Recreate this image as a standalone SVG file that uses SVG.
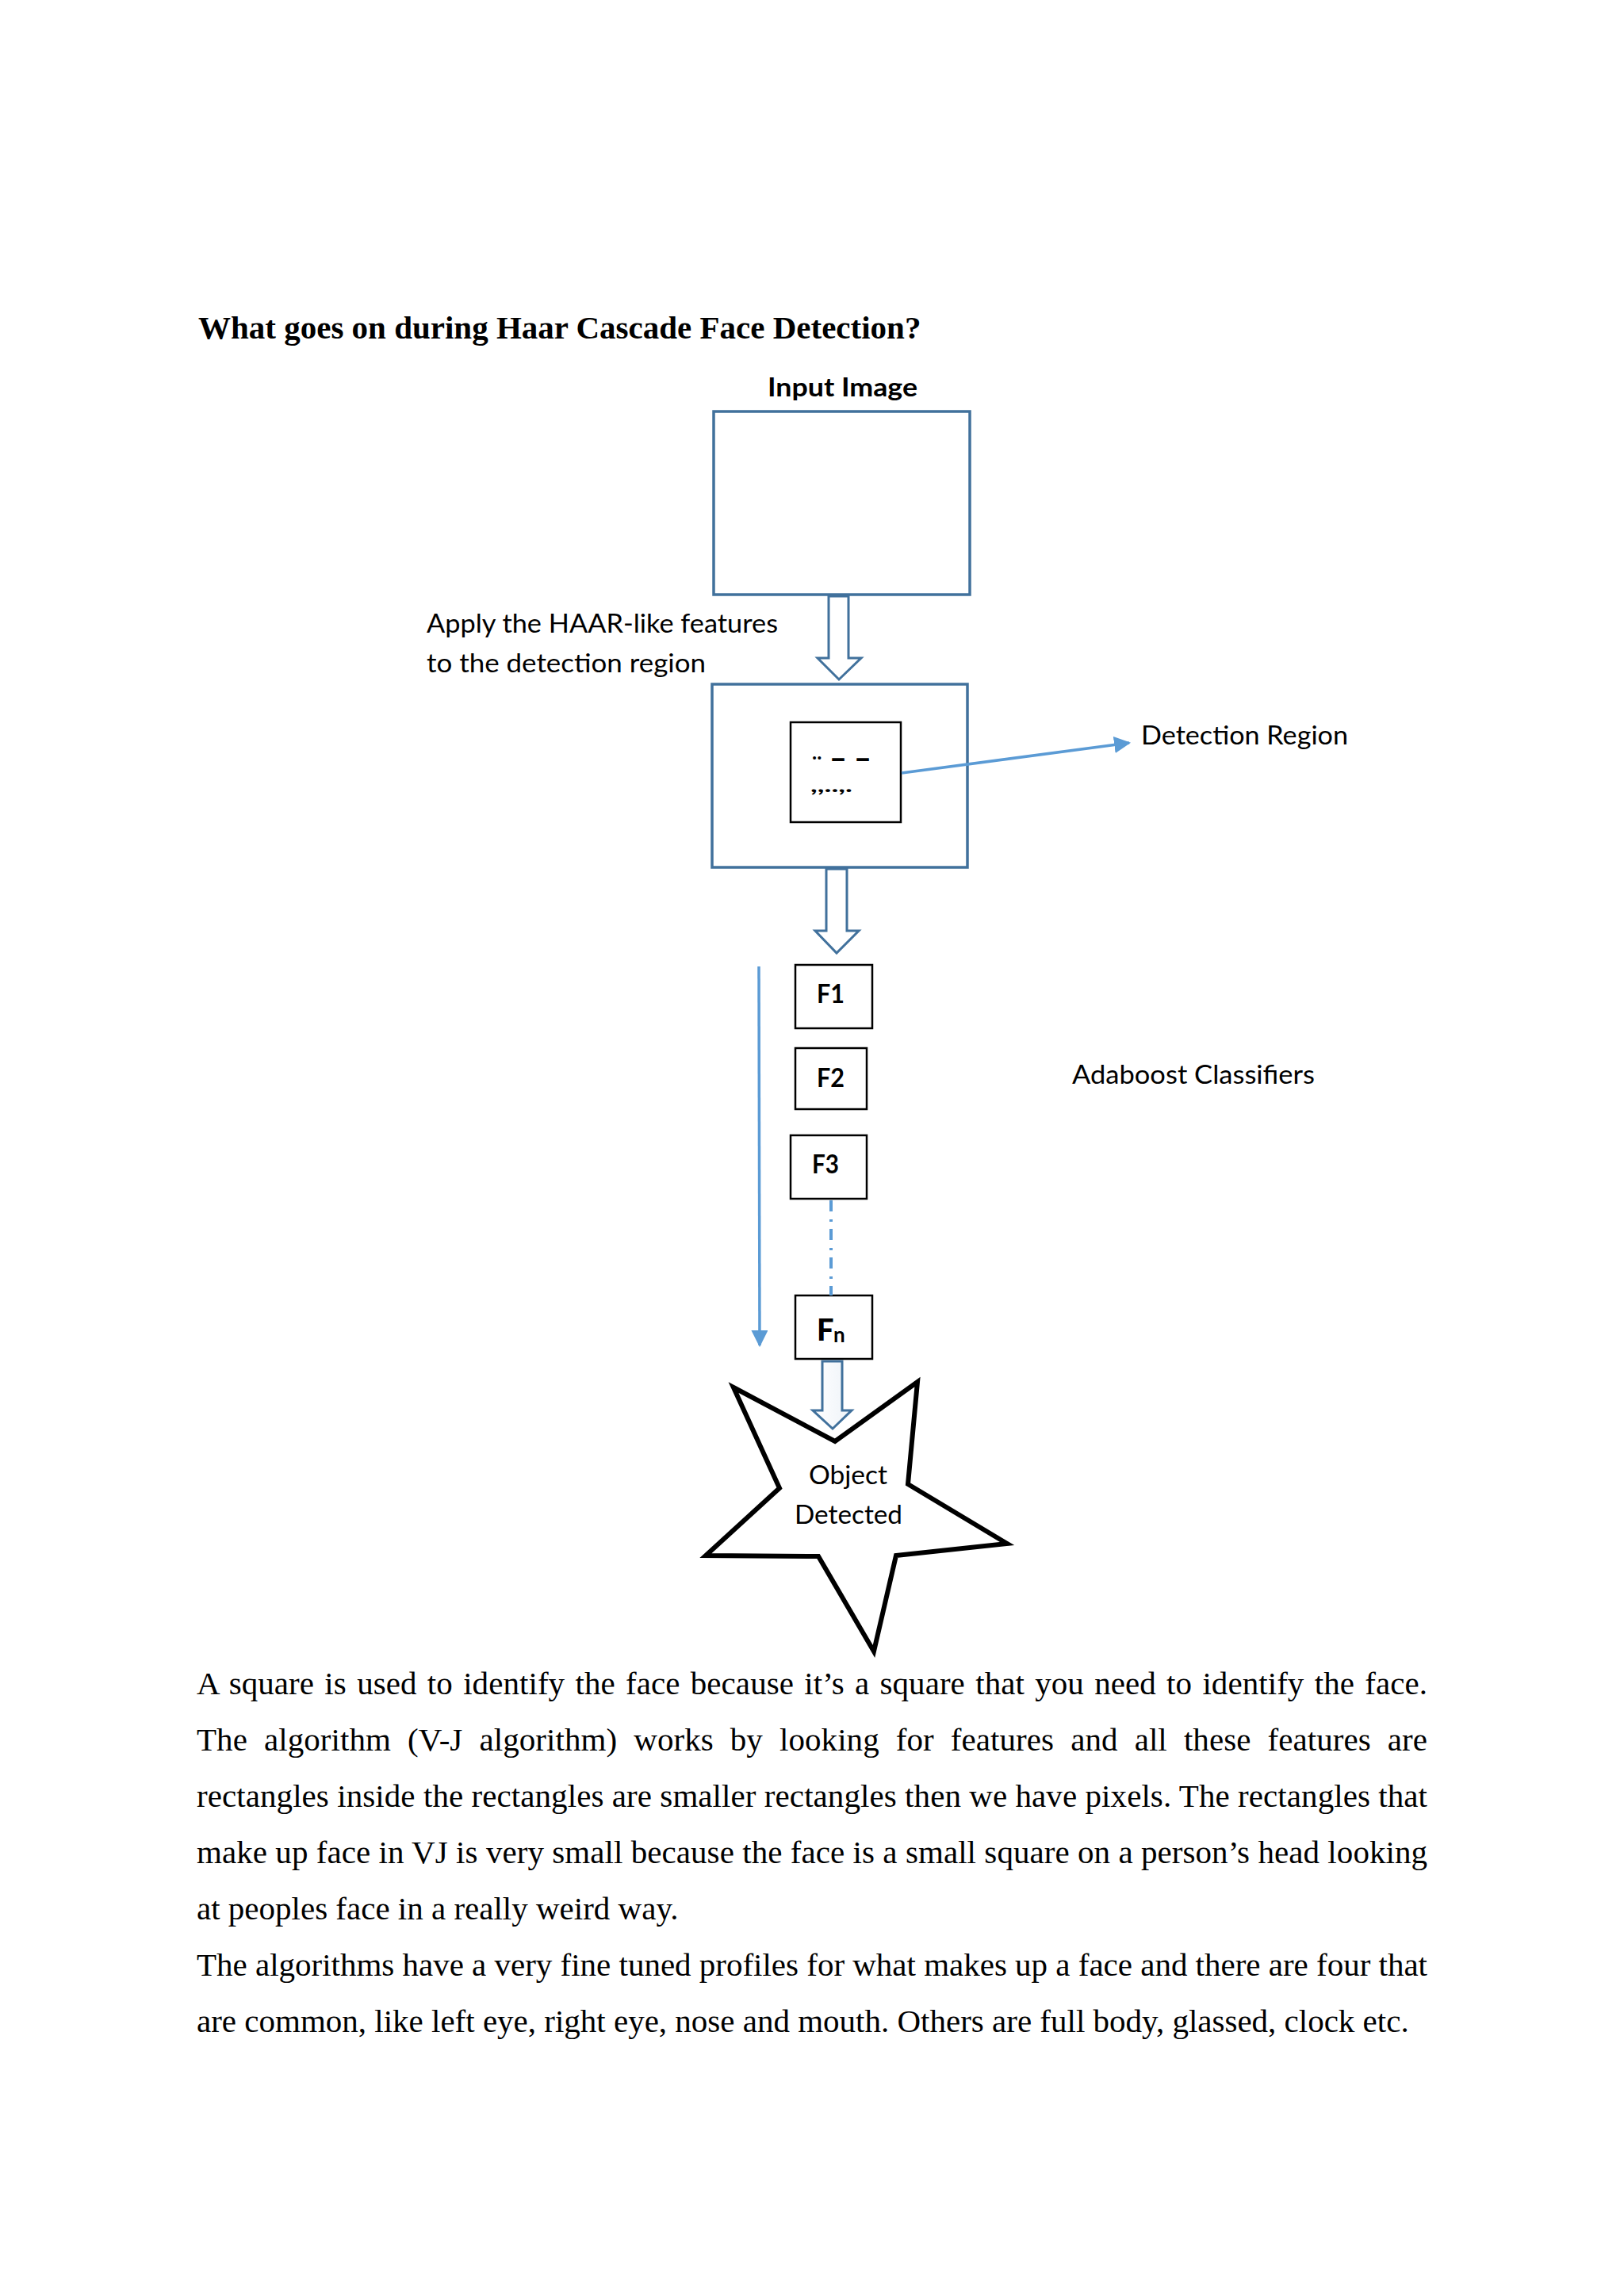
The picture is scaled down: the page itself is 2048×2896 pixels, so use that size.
<svg xmlns="http://www.w3.org/2000/svg" width="2048" height="2896" viewBox="0 0 2048 2896">
<style>
.serif{font-family:"Liberation Serif","Times New Roman",serif;font-size:41px;fill:#000}
.title{font-weight:bold}
.lbl{font-family:Lato,"Liberation Sans",sans-serif;font-size:32px;fill:#000}
.b{font-weight:bold}
.box{fill:#fff;stroke:#41719c;stroke-width:3.5}
.fbox{fill:#fff;stroke:#000;stroke-width:2.5}
.hollow{fill:#fff;stroke:#41719c;stroke-width:3;stroke-linejoin:miter}
.conn{stroke:#5b9bd5;stroke-width:3.5;fill:none}
</style>
<defs>
<marker id="tri" viewBox="0 0 10 10" refX="9" refY="5" markerWidth="6" markerHeight="6" markerUnits="strokeWidth" orient="auto">
<path d="M0,0 L10,5 L0,10 Z" fill="#5b9bd5"/>
</marker>
<linearGradient id="hg" x1="0" y1="0" x2="1" y2="0">
<stop offset="0" stop-color="#ffffff"/>
<stop offset="1" stop-color="#eef3f8"/>
</linearGradient>
</defs>
<rect width="2048" height="2896" fill="#fff"/>

<text class="serif title" x="250" y="427">What goes on during Haar Cascade Face Detection?</text>

<g id="input-image">
<text class="lbl b" x="968" y="500" textLength="189" lengthAdjust="spacingAndGlyphs">Input Image</text>
<rect class="box" x="900" y="519" width="323" height="231"/>
</g>

<g id="apply-label">
<text class="lbl" x="538" y="798" textLength="443" lengthAdjust="spacingAndGlyphs">Apply the HAAR-like features</text>
<text class="lbl" x="538" y="848" textLength="352" lengthAdjust="spacingAndGlyphs">to the detection region</text>
</g>

<g id="detection-box">
<rect class="box" x="898" y="863" width="322" height="231"/>
<rect class="fbox" x="997" y="911" width="139" height="126"/>
<text class="lbl b" x="1024" y="958" style="font-size:26px">..<tspan x="1046" y="970" style="font-size:38px;font-weight:900">– –</tspan></text>
<text class="lbl b" x="1022" y="999" style="font-size:24px" textLength="53" lengthAdjust="spacingAndGlyphs">,,..,.</text>
</g>

<g id="detection-region-label">
<text class="lbl" x="1439" y="939" textLength="261" lengthAdjust="spacingAndGlyphs">Detection Region</text>
</g>

<g id="f1">
<rect class="fbox" x="1003" y="1217" width="97" height="80"/>
<text class="lbl b" x="1030" y="1265" textLength="35" lengthAdjust="spacingAndGlyphs">F1</text>
</g>
<g id="f2">
<rect class="fbox" x="1003" y="1322" width="90" height="77"/>
<text class="lbl b" x="1030" y="1371" textLength="35" lengthAdjust="spacingAndGlyphs">F2</text>
</g>
<g id="f3">
<rect class="fbox" x="997" y="1432" width="96" height="80"/>
<text class="lbl b" x="1024" y="1480" textLength="34" lengthAdjust="spacingAndGlyphs">F3</text>
</g>
<g id="fn">
<rect class="fbox" x="1003" y="1634" width="97" height="80"/>
<text class="lbl" x="1030" y="1691" style="font-size:38px;font-weight:900">F<tspan x="1051" y="1693" style="font-size:26px;font-weight:bold">n</tspan></text>
</g>

<g id="adaboost-label">
<text class="lbl" x="1352" y="1367" textLength="306" lengthAdjust="spacingAndGlyphs">Adaboost Classifiers</text>
</g>

<g id="object-detected">
<polygon points="925,1750 1053,1818 1157,1743 1145,1872 1270,1947 1130,1962 1102,2083 1032,1963 890,1962 983,1877" fill="#fff" stroke="#000" stroke-width="6" stroke-linejoin="miter"/>
<text class="lbl" x="1020" y="1872" textLength="99" lengthAdjust="spacingAndGlyphs">Object</text>
<text class="lbl" x="1002" y="1922" textLength="136" lengthAdjust="spacingAndGlyphs">Detected</text>
</g>

<g id="connectors">
<polygon class="hollow" points="1045,752 1070,752 1070,830 1086,830 1058,857 1031,830 1045,830"/>
<polygon class="hollow" points="1042,1096 1068,1096 1068,1174 1083,1174 1055,1202 1028,1174 1042,1174"/>
<polygon class="hollow" style="fill:url(#hg)" points="1037,1717 1062,1717 1062,1779 1074,1779 1050,1802 1025,1779 1037,1779"/>
<line class="conn" x1="1137" y1="975" x2="1424" y2="937" marker-end="url(#tri)"/>
<line class="conn" x1="957" y1="1219" x2="958" y2="1697" marker-end="url(#tri)"/>
<line x1="1048" y1="1514" x2="1048" y2="1634" stroke="#5b9bd5" stroke-width="4" stroke-dasharray="14 10 3 9"/>
</g>

<g id="body-text">
<text class="serif" x="248" y="2137" word-spacing="3" textLength="1552" lengthAdjust="spacing">A square is used to identify the face because it’s a square that you need to identify the face.</text>
<text class="serif" x="248" y="2208" word-spacing="10.8" textLength="1552" lengthAdjust="spacing">The algorithm (V-J algorithm) works by looking for features and all these features are</text>
<text class="serif" x="248" y="2279" textLength="1552" lengthAdjust="spacing">rectangles inside the rectangles are smaller rectangles then we have pixels. The rectangles that</text>
<text class="serif" x="248" y="2350" textLength="1552" lengthAdjust="spacing">make up face in VJ is very small because the face is a small square on a person’s head looking</text>
<text class="serif" x="248" y="2421">at peoples face in a really weird way.</text>
<text class="serif" x="248" y="2492" textLength="1552" lengthAdjust="spacing">The algorithms have a very fine tuned profiles for what makes up a face and there are four that</text>
<text class="serif" x="248" y="2563">are common, like left eye, right eye, nose and mouth. Others are full body, glassed, clock etc.</text>
</g>
</svg>
